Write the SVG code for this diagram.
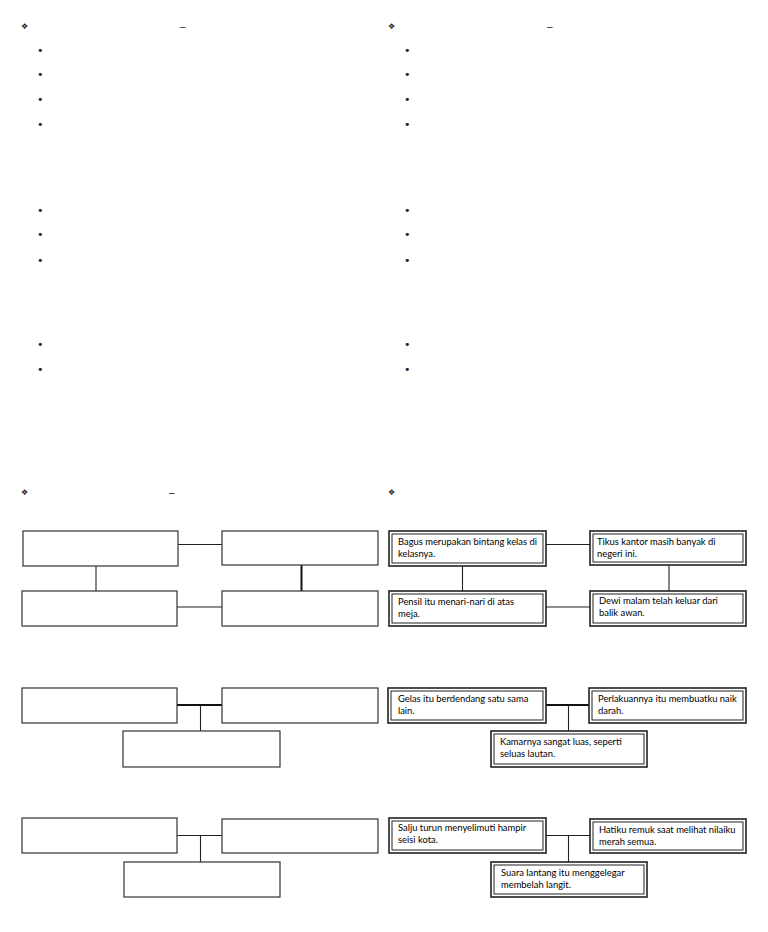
<svg xmlns="http://www.w3.org/2000/svg" width="768" height="932" viewBox="0 0 768 932">
<style>
.sym{font-family:"DejaVu Sans",sans-serif;fill:#222}
.dia{font-size:8px}
.bul{font-size:11px}
.dash{font-family:"Liberation Sans",sans-serif;font-size:10px;fill:#222}
.box{fill:#fff;stroke:#333;stroke-width:1.2}
.dbo{fill:#fff;stroke:#222;stroke-width:1.6}
.dbi{fill:none;stroke:#222;stroke-width:1}
.t{font-family:Lato,"Open Sans",sans-serif;font-size:9.4px;fill:#000}
.c{stroke:#222;stroke-width:1.1;fill:none}
.ct{stroke:#111;stroke-width:2;fill:none}
</style>
<rect width="768" height="932" fill="#fff"/>
<g id="headers">
<text class="sym dia" x="21" y="29">❖︎</text>
<text class="dash" x="180" y="30">–</text>
<text class="sym dia" x="388" y="29">❖︎</text>
<text class="dash" x="547" y="30">–</text>
<text class="sym dia" x="21" y="495">❖︎</text>
<text class="dash" x="169" y="496">–</text>
<text class="sym dia" x="388" y="495">❖︎</text>
</g>
<g id="bullets" class="sym bul">
<text x="37" y="54">•</text><text x="37" y="78">•</text><text x="37" y="103">•</text><text x="37" y="128">•</text>
<text x="37" y="214">•</text><text x="37" y="238">•</text><text x="37" y="264">•</text>
<text x="37" y="348">•</text><text x="37" y="373">•</text>
<text x="404" y="54">•</text><text x="404" y="78">•</text><text x="404" y="103">•</text><text x="404" y="128">•</text>
<text x="404" y="214">•</text><text x="404" y="238">•</text><text x="404" y="264">•</text>
<text x="404" y="348">•</text><text x="404" y="373">•</text>
</g>
<g id="connectors">
<line class="c" x1="178" y1="544.5" x2="222" y2="544.5"/>
<line class="c" x1="96" y1="566" x2="96" y2="591"/>
<line class="ct" x1="301.5" y1="565" x2="301.5" y2="591"/>
<line class="c" x1="177" y1="607" x2="222" y2="607"/>
<line class="ct" x1="177" y1="705" x2="222" y2="705"/>
<line class="c" x1="200.5" y1="705" x2="200.5" y2="731"/>
<line class="c" x1="177" y1="835.5" x2="222" y2="835.5"/>
<line class="c" x1="200.5" y1="835.5" x2="200.5" y2="862"/>
<line class="c" x1="546" y1="544.5" x2="590" y2="544.5"/>
<line class="c" x1="462.5" y1="566" x2="462.5" y2="591"/>
<line class="c" x1="669" y1="565" x2="669" y2="591"/>
<line class="c" x1="546" y1="607" x2="590" y2="607"/>
<line class="ct" x1="546" y1="705" x2="589" y2="705"/>
<line class="c" x1="568.5" y1="705" x2="568.5" y2="731"/>
<line class="c" x1="546" y1="835.5" x2="590" y2="835.5"/>
<line class="c" x1="568.5" y1="835.5" x2="568.5" y2="862"/>
</g>
<g id="L1"><rect class="box" x="23" y="531" width="155" height="35"/></g>
<g id="L2"><rect class="box" x="222" y="531" width="156" height="34"/></g>
<g id="L3"><rect class="box" x="22" y="591" width="155" height="35"/></g>
<g id="L4"><rect class="box" x="222" y="591" width="156" height="35"/></g>
<g id="L5"><rect class="box" x="22" y="688" width="155" height="35"/></g>
<g id="L6"><rect class="box" x="222" y="688" width="156" height="35"/></g>
<g id="L7"><rect class="box" x="123" y="731" width="157" height="36"/></g>
<g id="L8"><rect class="box" x="22" y="818" width="155" height="35"/></g>
<g id="L9"><rect class="box" x="222" y="819" width="156" height="34"/></g>
<g id="L10"><rect class="box" x="124" y="862" width="156" height="35"/></g>

<g id="R1"><rect class="dbo" x="389" y="531" width="157" height="35"/><rect class="dbi" x="392" y="534" width="151" height="29"/>
<text class="t" x="398" y="545">Bagus merupakan bintang kelas di</text><text class="t" x="398" y="557">kelasnya.</text></g>
<g id="R2"><rect class="dbo" x="590" y="531" width="156" height="34"/><rect class="dbi" x="593" y="534" width="150" height="28"/>
<text class="t" x="597" y="545">Tikus kantor masih banyak di</text><text class="t" x="597" y="557">negeri ini.</text></g>
<g id="R3"><rect class="dbo" x="389" y="591" width="157" height="35"/><rect class="dbi" x="392" y="594" width="151" height="29"/>
<text class="t" x="398" y="605">Pensil itu menari-nari di atas</text><text class="t" x="398" y="617">meja.</text></g>
<g id="R4"><rect class="dbo" x="590" y="591" width="156" height="35"/><rect class="dbi" x="593" y="594" width="150" height="29"/>
<text class="t" x="599" y="604">Dewi malam telah keluar dari</text><text class="t" x="599" y="616">balik awan.</text></g>
<g id="R5"><rect class="dbo" x="388" y="688" width="158" height="35"/><rect class="dbi" x="391" y="691" width="152" height="29"/>
<text class="t" x="398" y="702">Gelas itu berdendang satu sama</text><text class="t" x="398" y="714">lain.</text></g>
<g id="R6"><rect class="dbo" x="589" y="688" width="157" height="35"/><rect class="dbi" x="592" y="691" width="151" height="29"/>
<text class="t" x="598" y="702">Perlakuannya itu membuatku naik</text><text class="t" x="598" y="714">darah.</text></g>
<g id="R7"><rect class="dbo" x="491" y="731" width="156" height="36"/><rect class="dbi" x="494" y="734" width="150" height="30"/>
<text class="t" x="500" y="745">Kamarnya sangat luas, seperti</text><text class="t" x="500" y="757">seluas lautan.</text></g>
<g id="R8"><rect class="dbo" x="389" y="818" width="157" height="35"/><rect class="dbi" x="392" y="821" width="151" height="29"/>
<text class="t" x="398" y="831">Salju turun menyelimuti hampir</text><text class="t" x="398" y="843">seisi kota.</text></g>
<g id="R9"><rect class="dbo" x="590" y="819" width="156" height="34"/><rect class="dbi" x="593" y="822" width="150" height="28"/>
<text class="t" x="599" y="833">Hatiku remuk saat melihat nilaiku</text><text class="t" x="599" y="845">merah semua.</text></g>
<g id="R10"><rect class="dbo" x="491" y="862" width="156" height="35"/><rect class="dbi" x="494" y="865" width="150" height="29"/>
<text class="t" x="501" y="876">Suara lantang itu menggelegar</text><text class="t" x="501" y="888">membelah langit.</text></g>
</svg>
